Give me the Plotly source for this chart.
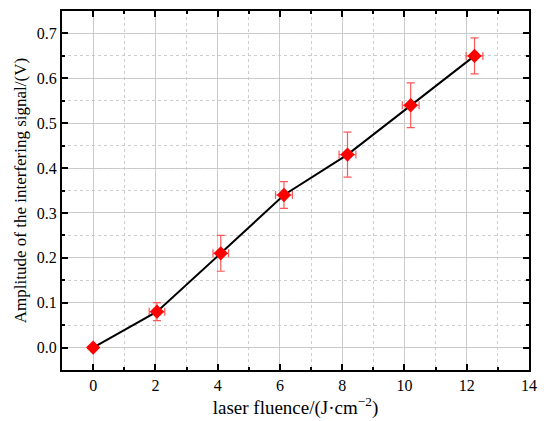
import plotly.graph_objects as go

# data
fluence = [0, 2.05, 4.1, 6.13, 8.17, 10.2, 12.25]
amplitude = [0.0, 0.08, 0.21, 0.34, 0.43, 0.54, 0.65]
amp_err = [0, 0.02, 0.04, 0.03, 0.05, 0.05, 0.04]
fluence_err = [0, 0.25, 0.25, 0.27, 0.27, 0.27, 0.27]

x_ticks = [0, 2, 4, 6, 8, 10, 12, 14]
y_ticks = [0.0, 0.1, 0.2, 0.3, 0.4, 0.5, 0.6, 0.7]

serif = "Times New Roman, Liberation Serif, serif"

fig = go.Figure()

fig.add_trace(go.Scatter(
    x=fluence,
    y=amplitude,
    mode="lines+markers",
    line=dict(color="black", width=2),
    marker=dict(symbol="diamond", size=11, color="red"),
    error_y=dict(type="data", array=amp_err, color="rgba(255,70,70,0.9)",
                 thickness=1.2, width=4),
    error_x=dict(type="data", array=fluence_err, color="rgba(255,70,70,0.9)",
                 thickness=1.2, width=4),
    showlegend=False,
    cliponaxis=False,
))

axis_common = dict(
    automargin=False,
    showline=True,
    linecolor="black",
    linewidth=2,
    mirror="allticks",
    ticks="inside",
    ticklen=6,
    tickwidth=2,
    tickcolor="black",
    showgrid=True,
    gridcolor="rgba(200,200,200,0.9)",
    gridwidth=1,
    zeroline=False,
    tickfont=dict(family=serif, size=16, color="black"),
)

# the page body has an 8px margin, so the figure is a bit smaller than the window
fig.update_layout(
    width=542,
    height=413,
    autosize=False,
    margin=dict(l=54, r=21, t=3, b=51, pad=0),
    plot_bgcolor="white",
    paper_bgcolor="white",
    font=dict(family=serif, size=16, color="black"),
    xaxis=dict(
        **axis_common,
        range=[-1, 14],
        tickmode="array",
        tickvals=x_ticks,
        ticktext=[str(t) for t in x_ticks],
        minor=dict(dtick=1, ticks="inside", ticklen=3, tickwidth=2,
                   tickcolor="black", showgrid=True,
                   gridcolor="rgba(200,200,200,0.9)", griddash="dot"),
        title=dict(text="laser fluence/(J·cm<sup>−2</sup>)",
                   font=dict(family=serif, size=19, color="black"), standoff=1),
    ),
    yaxis=dict(
        **axis_common,
        range=[-0.05, 0.75],
        tickmode="array",
        tickvals=y_ticks,
        ticktext=[f"{t:.1f}" for t in y_ticks],
        minor=dict(dtick=0.05, tick0=0, ticks="inside", ticklen=3, tickwidth=2,
                   tickcolor="black", showgrid=True,
                   gridcolor="rgba(200,200,200,0.9)", griddash="dot"),
        title=dict(text="Amplitude of the interfering signal/(V)",
                   font=dict(family=serif, size=17, color="black"), standoff=6),
    ),
)

fig.write_html("out.html")
